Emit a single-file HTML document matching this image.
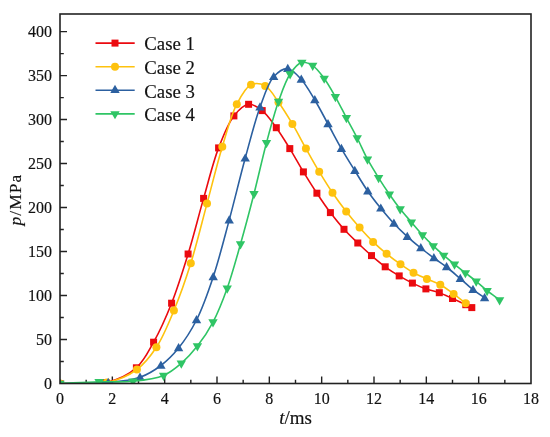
<!DOCTYPE html>
<html><head><meta charset="utf-8"><style>
html,body{margin:0;padding:0;background:#fff;}
svg{display:block;}
text{font-family:"Liberation Serif",serif;stroke:#111;stroke-width:0.16px;}
</style></head><body>
<svg width="550" height="437" viewBox="0 0 550 437">
<defs><clipPath id="pa"><rect x="60.0" y="14.0" width="471.0" height="369.5"/></clipPath></defs>
<rect width="550" height="437" fill="#fff"/>
<path d="M86.17,383.50 V379.70 M112.33,383.50 V376.50 M138.50,383.50 V379.70 M164.67,383.50 V376.50 M190.83,383.50 V379.70 M217.00,383.50 V376.50 M243.17,383.50 V379.70 M269.33,383.50 V376.50 M295.50,383.50 V379.70 M321.67,383.50 V376.50 M347.83,383.50 V379.70 M374.00,383.50 V376.50 M400.17,383.50 V379.70 M426.33,383.50 V376.50 M452.50,383.50 V379.70 M478.67,383.50 V376.50 M504.83,383.50 V379.70 M60.00,361.51 H63.80 M60.00,339.51 H67.00 M60.00,317.52 H63.80 M60.00,295.52 H67.00 M60.00,273.53 H63.80 M60.00,251.54 H67.00 M60.00,229.54 H63.80 M60.00,207.55 H67.00 M60.00,185.55 H63.80 M60.00,163.56 H67.00 M60.00,141.57 H63.80 M60.00,119.57 H67.00 M60.00,97.58 H63.80 M60.00,75.58 H67.00 M60.00,53.59 H63.80 M60.00,31.60 H67.00" stroke="#222222" stroke-width="1.4" fill="none"/>
<g clip-path="url(#pa)">
<path d="M60.00,383.50 C75.33,383.20 92.56,385.84 106.00,382.60 C117.52,379.83 128.38,374.78 136.40,367.80 C144.06,361.13 148.16,351.87 153.60,342.20 C160.01,330.79 166.07,317.11 171.60,303.20 C177.67,287.91 182.89,270.97 188.10,254.00 C193.59,236.10 198.40,216.47 203.60,198.40 C208.57,181.14 212.93,162.63 218.60,147.90 C223.25,135.82 227.85,123.47 233.90,115.90 C238.30,110.40 243.61,104.89 248.60,104.30 C253.06,103.77 257.97,107.33 262.20,110.60 C267.35,114.57 271.82,121.58 276.30,127.70 C281.05,134.19 285.37,141.39 289.80,148.60 C294.41,156.11 298.81,164.35 303.40,171.90 C307.84,179.20 312.32,186.31 316.90,193.20 C321.33,199.87 325.77,206.46 330.40,212.60 C334.82,218.46 339.31,224.12 344.00,229.30 C348.46,234.22 353.17,238.57 357.80,243.00 C362.33,247.33 366.87,251.59 371.50,255.60 C376.01,259.51 380.51,263.38 385.20,266.80 C389.75,270.13 394.55,273.13 399.20,275.90 C403.61,278.53 407.92,280.92 412.40,283.10 C416.83,285.25 421.36,287.29 425.90,288.90 C430.32,290.47 434.90,291.12 439.30,292.70 C443.77,294.31 448.10,296.51 452.50,298.50 C456.94,300.51 462.24,303.01 465.80,304.70 C468.20,305.84 469.80,306.63 471.80,307.60" stroke="#EB0A0F" stroke-width="1.60" fill="none" stroke-linejoin="round"/>
<rect x="56.50" y="380.00" width="7.00" height="7.00" fill="#EB0A0F"/>
<rect x="102.50" y="379.10" width="7.00" height="7.00" fill="#EB0A0F"/>
<rect x="132.90" y="364.30" width="7.00" height="7.00" fill="#EB0A0F"/>
<rect x="150.10" y="338.70" width="7.00" height="7.00" fill="#EB0A0F"/>
<rect x="168.10" y="299.70" width="7.00" height="7.00" fill="#EB0A0F"/>
<rect x="184.60" y="250.50" width="7.00" height="7.00" fill="#EB0A0F"/>
<rect x="200.10" y="194.90" width="7.00" height="7.00" fill="#EB0A0F"/>
<rect x="215.10" y="144.40" width="7.00" height="7.00" fill="#EB0A0F"/>
<rect x="230.40" y="112.40" width="7.00" height="7.00" fill="#EB0A0F"/>
<rect x="245.10" y="100.80" width="7.00" height="7.00" fill="#EB0A0F"/>
<rect x="258.70" y="107.10" width="7.00" height="7.00" fill="#EB0A0F"/>
<rect x="272.80" y="124.20" width="7.00" height="7.00" fill="#EB0A0F"/>
<rect x="286.30" y="145.10" width="7.00" height="7.00" fill="#EB0A0F"/>
<rect x="299.90" y="168.40" width="7.00" height="7.00" fill="#EB0A0F"/>
<rect x="313.40" y="189.70" width="7.00" height="7.00" fill="#EB0A0F"/>
<rect x="326.90" y="209.10" width="7.00" height="7.00" fill="#EB0A0F"/>
<rect x="340.50" y="225.80" width="7.00" height="7.00" fill="#EB0A0F"/>
<rect x="354.30" y="239.50" width="7.00" height="7.00" fill="#EB0A0F"/>
<rect x="368.00" y="252.10" width="7.00" height="7.00" fill="#EB0A0F"/>
<rect x="381.70" y="263.30" width="7.00" height="7.00" fill="#EB0A0F"/>
<rect x="395.70" y="272.40" width="7.00" height="7.00" fill="#EB0A0F"/>
<rect x="408.90" y="279.60" width="7.00" height="7.00" fill="#EB0A0F"/>
<rect x="422.40" y="285.40" width="7.00" height="7.00" fill="#EB0A0F"/>
<rect x="435.80" y="289.20" width="7.00" height="7.00" fill="#EB0A0F"/>
<rect x="449.00" y="295.00" width="7.00" height="7.00" fill="#EB0A0F"/>
<rect x="462.30" y="301.20" width="7.00" height="7.00" fill="#EB0A0F"/>
<rect x="468.30" y="304.10" width="7.00" height="7.00" fill="#EB0A0F"/>
<path d="M60.00,383.50 C75.67,383.20 93.36,385.59 107.00,382.60 C118.37,380.10 128.54,375.61 136.90,369.50 C144.85,363.68 150.60,356.10 156.40,347.30 C163.21,336.96 168.43,323.68 173.90,310.50 C179.98,295.86 185.53,279.99 190.80,263.20 C196.65,244.59 201.69,223.24 207.00,203.60 C212.19,184.42 216.97,164.20 222.30,146.70 C226.96,131.42 231.02,115.29 236.80,104.20 C241.03,96.09 245.47,87.34 251.00,84.80 C255.26,82.84 260.96,83.68 265.20,85.90 C270.36,88.60 274.18,96.24 278.50,102.20 C283.28,108.79 287.92,116.37 292.40,123.90 C297.07,131.74 301.39,140.35 305.90,148.40 C310.32,156.28 314.68,164.17 319.20,171.70 C323.56,178.96 327.91,186.06 332.50,192.80 C336.92,199.30 341.56,205.58 346.20,211.50 C350.60,217.12 355.05,222.37 359.60,227.50 C364.02,232.49 368.49,237.43 373.10,241.90 C377.50,246.17 381.99,250.05 386.60,253.80 C391.13,257.48 395.89,260.98 400.50,264.20 C404.86,267.25 409.04,270.23 413.50,272.70 C417.85,275.11 422.42,276.89 426.90,278.90 C431.35,280.89 435.96,282.29 440.30,284.70 C444.87,287.24 449.32,290.77 453.60,293.90 C457.75,296.94 461.60,300.10 465.60,303.20" stroke="#FEC20E" stroke-width="1.60" fill="none" stroke-linejoin="round"/>
<circle cx="60.00" cy="383.50" r="4.00" fill="#FEC20E"/>
<circle cx="107.00" cy="382.60" r="4.00" fill="#FEC20E"/>
<circle cx="136.90" cy="369.50" r="4.00" fill="#FEC20E"/>
<circle cx="156.40" cy="347.30" r="4.00" fill="#FEC20E"/>
<circle cx="173.90" cy="310.50" r="4.00" fill="#FEC20E"/>
<circle cx="190.80" cy="263.20" r="4.00" fill="#FEC20E"/>
<circle cx="207.00" cy="203.60" r="4.00" fill="#FEC20E"/>
<circle cx="222.30" cy="146.70" r="4.00" fill="#FEC20E"/>
<circle cx="236.80" cy="104.20" r="4.00" fill="#FEC20E"/>
<circle cx="251.00" cy="84.80" r="4.00" fill="#FEC20E"/>
<circle cx="265.20" cy="85.90" r="4.00" fill="#FEC20E"/>
<circle cx="278.50" cy="102.20" r="4.00" fill="#FEC20E"/>
<circle cx="292.40" cy="123.90" r="4.00" fill="#FEC20E"/>
<circle cx="305.90" cy="148.40" r="4.00" fill="#FEC20E"/>
<circle cx="319.20" cy="171.70" r="4.00" fill="#FEC20E"/>
<circle cx="332.50" cy="192.80" r="4.00" fill="#FEC20E"/>
<circle cx="346.20" cy="211.50" r="4.00" fill="#FEC20E"/>
<circle cx="359.60" cy="227.50" r="4.00" fill="#FEC20E"/>
<circle cx="373.10" cy="241.90" r="4.00" fill="#FEC20E"/>
<circle cx="386.60" cy="253.80" r="4.00" fill="#FEC20E"/>
<circle cx="400.50" cy="264.20" r="4.00" fill="#FEC20E"/>
<circle cx="413.50" cy="272.70" r="4.00" fill="#FEC20E"/>
<circle cx="426.90" cy="278.90" r="4.00" fill="#FEC20E"/>
<circle cx="440.30" cy="284.70" r="4.00" fill="#FEC20E"/>
<circle cx="453.60" cy="293.90" r="4.00" fill="#FEC20E"/>
<circle cx="465.60" cy="303.20" r="4.00" fill="#FEC20E"/>
<path d="M60.00,383.50 C76.07,383.20 93.84,383.92 108.20,382.60 C119.94,381.52 130.76,380.57 140.00,377.30 C147.98,374.48 154.51,370.32 160.90,365.50 C167.40,360.59 173.04,354.87 178.60,348.00 C185.02,340.06 191.11,330.64 196.50,320.00 C202.86,307.45 208.03,292.39 213.20,276.90 C219.04,259.40 223.97,239.46 229.20,220.10 C234.64,199.96 239.83,177.89 245.20,158.30 C250.10,140.42 254.60,121.87 260.00,107.20 C264.27,95.59 267.86,83.24 273.70,76.80 C277.78,72.30 283.27,68.35 287.80,68.70 C292.48,69.06 297.13,74.93 301.30,79.50 C306.27,84.95 310.46,92.81 314.80,100.00 C319.38,107.60 323.59,115.95 328.00,124.00 C332.46,132.14 336.84,140.68 341.40,148.60 C345.78,156.19 350.34,163.40 354.80,170.60 C359.14,177.60 363.32,184.74 367.80,191.20 C372.01,197.26 376.37,202.83 380.80,208.30 C385.08,213.58 389.40,218.71 393.90,223.50 C398.25,228.13 402.75,232.46 407.30,236.60 C411.72,240.62 416.29,244.38 420.80,248.00 C425.16,251.50 429.54,254.79 433.90,258.00 C438.14,261.12 442.36,263.70 446.60,267.00 C451.16,270.55 455.82,274.87 460.30,278.70 C464.62,282.39 468.79,286.30 473.00,289.60 C476.89,292.65 480.73,295.13 484.60,297.90" stroke="#2C60A0" stroke-width="1.60" fill="none" stroke-linejoin="round"/>
<path d="M60.00,378.58 L64.70,386.78 L55.30,386.78 Z" fill="#2C60A0"/>
<path d="M108.20,377.68 L112.90,385.88 L103.50,385.88 Z" fill="#2C60A0"/>
<path d="M140.00,372.38 L144.70,380.58 L135.30,380.58 Z" fill="#2C60A0"/>
<path d="M160.90,360.58 L165.60,368.78 L156.20,368.78 Z" fill="#2C60A0"/>
<path d="M178.60,343.08 L183.30,351.28 L173.90,351.28 Z" fill="#2C60A0"/>
<path d="M196.50,315.08 L201.20,323.28 L191.80,323.28 Z" fill="#2C60A0"/>
<path d="M213.20,271.98 L217.90,280.18 L208.50,280.18 Z" fill="#2C60A0"/>
<path d="M229.20,215.18 L233.90,223.38 L224.50,223.38 Z" fill="#2C60A0"/>
<path d="M245.20,153.38 L249.90,161.58 L240.50,161.58 Z" fill="#2C60A0"/>
<path d="M260.00,102.28 L264.70,110.48 L255.30,110.48 Z" fill="#2C60A0"/>
<path d="M273.70,71.88 L278.40,80.08 L269.00,80.08 Z" fill="#2C60A0"/>
<path d="M287.80,63.78 L292.50,71.98 L283.10,71.98 Z" fill="#2C60A0"/>
<path d="M301.30,74.58 L306.00,82.78 L296.60,82.78 Z" fill="#2C60A0"/>
<path d="M314.80,95.08 L319.50,103.28 L310.10,103.28 Z" fill="#2C60A0"/>
<path d="M328.00,119.08 L332.70,127.28 L323.30,127.28 Z" fill="#2C60A0"/>
<path d="M341.40,143.68 L346.10,151.88 L336.70,151.88 Z" fill="#2C60A0"/>
<path d="M354.80,165.68 L359.50,173.88 L350.10,173.88 Z" fill="#2C60A0"/>
<path d="M367.80,186.28 L372.50,194.48 L363.10,194.48 Z" fill="#2C60A0"/>
<path d="M380.80,203.38 L385.50,211.58 L376.10,211.58 Z" fill="#2C60A0"/>
<path d="M393.90,218.58 L398.60,226.78 L389.20,226.78 Z" fill="#2C60A0"/>
<path d="M407.30,231.68 L412.00,239.88 L402.60,239.88 Z" fill="#2C60A0"/>
<path d="M420.80,243.08 L425.50,251.28 L416.10,251.28 Z" fill="#2C60A0"/>
<path d="M433.90,253.08 L438.60,261.28 L429.20,261.28 Z" fill="#2C60A0"/>
<path d="M446.60,262.08 L451.30,270.28 L441.90,270.28 Z" fill="#2C60A0"/>
<path d="M460.30,273.78 L465.00,281.98 L455.60,281.98 Z" fill="#2C60A0"/>
<path d="M473.00,284.68 L477.70,292.88 L468.30,292.88 Z" fill="#2C60A0"/>
<path d="M484.60,292.98 L489.30,301.18 L479.90,301.18 Z" fill="#2C60A0"/>
<path d="M60.00,383.50 C73.03,382.93 86.53,382.17 99.10,381.80 C110.80,381.46 122.04,382.41 133.00,381.30 C143.51,380.23 155.09,379.05 163.60,375.50 C170.67,372.55 175.78,368.06 181.30,363.30 C187.08,358.32 192.34,352.56 197.40,346.10 C202.98,338.98 208.28,331.02 213.00,322.10 C218.35,311.99 222.83,300.37 227.20,288.20 C232.09,274.56 236.16,259.24 240.50,244.00 C245.11,227.81 249.67,210.55 254.00,193.70 C258.34,176.78 262.20,158.75 266.50,142.70 C270.39,128.19 274.15,113.74 278.50,101.50 C282.13,91.29 285.44,80.89 290.10,74.00 C293.56,68.88 297.64,63.45 301.80,62.40 C305.25,61.53 309.30,63.46 312.70,65.60 C316.89,68.24 320.60,73.56 324.20,78.40 C328.23,83.82 331.78,90.40 335.40,96.80 C339.19,103.51 342.74,110.88 346.40,117.80 C350.00,124.61 353.71,131.15 357.20,138.00 C360.74,144.95 363.85,152.44 367.50,159.20 C371.00,165.68 374.86,171.83 378.60,177.80 C382.16,183.48 385.74,188.92 389.40,194.20 C392.94,199.30 396.48,204.27 400.20,209.00 C403.82,213.59 407.66,217.84 411.40,222.20 C415.10,226.51 418.76,230.96 422.50,235.00 C426.06,238.84 429.68,242.44 433.30,245.90 C436.78,249.23 440.25,252.32 443.80,255.40 C447.32,258.45 450.90,261.38 454.50,264.30 C458.10,267.21 461.77,270.06 465.40,272.90 C469.00,275.72 472.63,278.37 476.20,281.30 C479.86,284.30 483.28,287.64 487.10,290.70 C491.07,293.88 495.43,296.90 499.60,300.00" stroke="#2FC565" stroke-width="1.60" fill="none" stroke-linejoin="round"/>
<path d="M55.30,380.77 L64.70,380.77 L60.00,388.97 Z" fill="#2FC565"/>
<path d="M94.40,379.07 L103.80,379.07 L99.10,387.27 Z" fill="#2FC565"/>
<path d="M128.30,378.57 L137.70,378.57 L133.00,386.77 Z" fill="#2FC565"/>
<path d="M158.90,372.77 L168.30,372.77 L163.60,380.97 Z" fill="#2FC565"/>
<path d="M176.60,360.57 L186.00,360.57 L181.30,368.77 Z" fill="#2FC565"/>
<path d="M192.70,343.37 L202.10,343.37 L197.40,351.57 Z" fill="#2FC565"/>
<path d="M208.30,319.37 L217.70,319.37 L213.00,327.57 Z" fill="#2FC565"/>
<path d="M222.50,285.47 L231.90,285.47 L227.20,293.67 Z" fill="#2FC565"/>
<path d="M235.80,241.27 L245.20,241.27 L240.50,249.47 Z" fill="#2FC565"/>
<path d="M249.30,190.97 L258.70,190.97 L254.00,199.17 Z" fill="#2FC565"/>
<path d="M261.80,139.97 L271.20,139.97 L266.50,148.17 Z" fill="#2FC565"/>
<path d="M273.80,98.77 L283.20,98.77 L278.50,106.97 Z" fill="#2FC565"/>
<path d="M285.40,71.27 L294.80,71.27 L290.10,79.47 Z" fill="#2FC565"/>
<path d="M297.10,59.67 L306.50,59.67 L301.80,67.87 Z" fill="#2FC565"/>
<path d="M308.00,62.87 L317.40,62.87 L312.70,71.07 Z" fill="#2FC565"/>
<path d="M319.50,75.67 L328.90,75.67 L324.20,83.87 Z" fill="#2FC565"/>
<path d="M330.70,94.07 L340.10,94.07 L335.40,102.27 Z" fill="#2FC565"/>
<path d="M341.70,115.07 L351.10,115.07 L346.40,123.27 Z" fill="#2FC565"/>
<path d="M352.50,135.27 L361.90,135.27 L357.20,143.47 Z" fill="#2FC565"/>
<path d="M362.80,156.47 L372.20,156.47 L367.50,164.67 Z" fill="#2FC565"/>
<path d="M373.90,175.07 L383.30,175.07 L378.60,183.27 Z" fill="#2FC565"/>
<path d="M384.70,191.47 L394.10,191.47 L389.40,199.67 Z" fill="#2FC565"/>
<path d="M395.50,206.27 L404.90,206.27 L400.20,214.47 Z" fill="#2FC565"/>
<path d="M406.70,219.47 L416.10,219.47 L411.40,227.67 Z" fill="#2FC565"/>
<path d="M417.80,232.27 L427.20,232.27 L422.50,240.47 Z" fill="#2FC565"/>
<path d="M428.60,243.17 L438.00,243.17 L433.30,251.37 Z" fill="#2FC565"/>
<path d="M439.10,252.67 L448.50,252.67 L443.80,260.87 Z" fill="#2FC565"/>
<path d="M449.80,261.57 L459.20,261.57 L454.50,269.77 Z" fill="#2FC565"/>
<path d="M460.70,270.17 L470.10,270.17 L465.40,278.37 Z" fill="#2FC565"/>
<path d="M471.50,278.57 L480.90,278.57 L476.20,286.77 Z" fill="#2FC565"/>
<path d="M482.40,287.97 L491.80,287.97 L487.10,296.17 Z" fill="#2FC565"/>
<path d="M494.90,297.27 L504.30,297.27 L499.60,305.47 Z" fill="#2FC565"/>
</g>
<rect x="60.00" y="14.00" width="471.00" height="369.50" fill="none" stroke="#222222" stroke-width="1.6"/>
<g font-size="16.0" fill="#111">
<text x="60.00" y="403.8" text-anchor="middle">0</text>
<text x="112.33" y="403.8" text-anchor="middle">2</text>
<text x="164.67" y="403.8" text-anchor="middle">4</text>
<text x="217.00" y="403.8" text-anchor="middle">6</text>
<text x="269.33" y="403.8" text-anchor="middle">8</text>
<text x="321.67" y="403.8" text-anchor="middle">10</text>
<text x="374.00" y="403.8" text-anchor="middle">12</text>
<text x="426.33" y="403.8" text-anchor="middle">14</text>
<text x="478.67" y="403.8" text-anchor="middle">16</text>
<text x="531.00" y="403.8" text-anchor="middle">18</text>
<text x="52.1" y="388.60" text-anchor="end">0</text>
<text x="52.1" y="344.61" text-anchor="end">50</text>
<text x="52.1" y="300.62" text-anchor="end">100</text>
<text x="52.1" y="256.64" text-anchor="end">150</text>
<text x="52.1" y="212.65" text-anchor="end">200</text>
<text x="52.1" y="168.66" text-anchor="end">250</text>
<text x="52.1" y="124.67" text-anchor="end">300</text>
<text x="52.1" y="80.68" text-anchor="end">350</text>
<text x="52.1" y="36.70" text-anchor="end">400</text>
</g>
<text x="295.5" y="424.3" text-anchor="middle" font-size="19" fill="#111"><tspan font-style="italic">t</tspan>/ms</text>
<text transform="translate(21,199.6) rotate(-90)" text-anchor="middle" font-size="17.5" letter-spacing="1.0" fill="#111"><tspan font-style="italic">p</tspan>/MPa</text>
<line x1="95.5" y1="43.10" x2="134.7" y2="43.10" stroke="#EB0A0F" stroke-width="1.60"/>
<rect x="111.50" y="39.60" width="7.00" height="7.00" fill="#EB0A0F"/>
<text x="144.3" y="50.30" font-size="18.8" fill="#111">Case 1</text>
<line x1="95.5" y1="66.70" x2="134.7" y2="66.70" stroke="#FEC20E" stroke-width="1.60"/>
<circle cx="115.00" cy="66.70" r="4.00" fill="#FEC20E"/>
<text x="144.3" y="73.90" font-size="18.8" fill="#111">Case 2</text>
<line x1="95.5" y1="90.30" x2="134.7" y2="90.30" stroke="#2C60A0" stroke-width="1.60"/>
<path d="M115.00,84.83 L119.70,93.03 L110.30,93.03 Z" fill="#2C60A0"/>
<text x="144.3" y="97.50" font-size="18.8" fill="#111">Case 3</text>
<line x1="95.5" y1="113.90" x2="134.7" y2="113.90" stroke="#2FC565" stroke-width="1.60"/>
<path d="M110.30,111.17 L119.70,111.17 L115.00,119.37 Z" fill="#2FC565"/>
<text x="144.3" y="121.10" font-size="18.8" fill="#111">Case 4</text>
</svg>
</body></html>
